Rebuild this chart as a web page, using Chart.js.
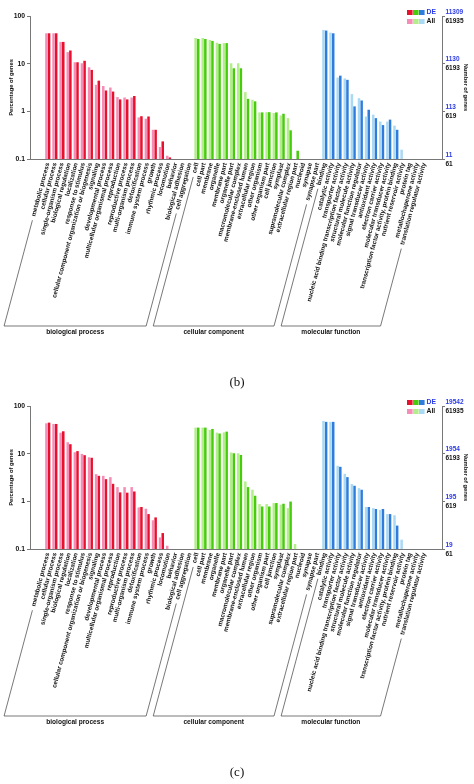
<!DOCTYPE html>
<html>
<head>
<meta charset="utf-8">
<script src="https://cdn.jsdelivr.net/npm/chart.js@4.4.1/dist/chart.umd.min.js"></script>
<style>
  html, body { margin: 0; padding: 0; background: #fff; }
  #wrap { position: relative; width: 474px; height: 784px; }
  canvas { position: absolute; left: 0; }
  .pl { position: absolute; left: 0; width: 474px; text-align: center; font: 13px "Liberation Serif", "DejaVu Serif", serif; color: #111; line-height: 16px; }
</style>
</head>
<body>
<div id="wrap">
  <canvas id="c1" width="474" height="390" style="top:0"></canvas>
  <canvas id="c2" width="474" height="390" style="top:390px"></canvas>
  <div class="pl" style="top:374px">(b)</div>
  <div class="pl" style="top:764px">(c)</div>
</div>
<script>
// ---------- categories ----------
const bpCats = ['metabolic process','cellular process','single-organism process','biological regulation','localization','response to stimulus','cellular component organization or biogenesis','signaling','developmental process','multicellular organismal process','reproduction','reproductive process','multi-organism process','detoxification','immune system process','growth','rhythmic process','locomotion','behavior','biological adhesion','cell aggregation'];
const ccCats = ['cell','cell part','membrane','organelle','membrane part','organelle part','macromolecular complex','membrane-enclosed lumen','extracellular region','other organism','other organism part','cell junction','symplast','supramolecular complex','extracellular region part','nucleoid','synapse','synapse part'];
const mfCats = ['binding','catalytic activity','transporter activity','nucleic acid binding transcription factor activity','structural molecule activity','molecular function regulator','signal transducer activity','antioxidant activity','electron carrier activity','molecular transducer activity','transcription factor activity, protein binding','nutrient reservoir activity','protein tag','metallochaperone activity','translation regulator activity'];
const groupNames = ['biological process','cellular component','molecular function'];

// ---------- panel (b) values: percentage of genes ----------
const bpAllB = [43.4, 43.4, 28.6, 17.5, 10.7, 10.2, 8.4, 3.6, 3.4, 3.16, 1.99, 1.95, 1.95, 0.745, 0.70, 0.41, 0.178, 0.117, null, null, null];
const bpDEB  = [43.4, 43.4, 28.6, 18.9, 10.7, 11.5, 7.4, 4.4, 2.74, 2.6, 1.78, 1.78, 2.1, 0.79, 0.78, 0.41, 0.234, 0.108, null, null, null];
const ccAllB = [34.5, 34.5, 31.5, 27.5, 27, 10.2, 10.2, 2.53, 1.75, 0.95, 0.96, 0.92, 0.82, 0.72, null, null, null, null];
const ccDEB  = [33, 33, 30, 26, 27, 8.0, 8.0, 1.83, 1.62, 0.95, 0.96, 0.95, 0.89, 0.40, 0.149, null, null, null];
const mfAllB = [51, 44.8, 5.1, 4.9, 2.3, 1.89, 0.78, 0.85, 0.61, 0.61, 0.5, 0.157, null, null, null];
const mfDEB  = [49.5, 43.4, 5.6, 4.58, 1.27, 1.69, 1.08, 0.72, 0.515, 0.67, 0.41, null, null, null, null];

// ---------- panel (c) values ----------
const bpAllC = [43.4, 42, 27.6, 17.4, 10.7, 9.9, 8.4, 3.72, 3.43, 3.22, 1.99, 1.99, 1.99, 0.745, 0.70, 0.40, 0.175, 0.117, null, null, null];
const bpDEC  = [44.8, 42, 29.5, 15.8, 11.3, 9.3, 8.2, 3.43, 2.92, 2.33, 1.54, 1.52, 1.61, 0.76, 0.54, 0.46, 0.216, null, null, null, null];
const ccAllC = [35.2, 35.2, 31.5, 27.6, 28, 10.6, 10.2, 2.61, 1.75, 0.875, 0.875, 0.92, 0.85, 0.72, 0.127, null, null, null];
const ccDEC  = [35.2, 35.2, 33, 26.5, 29, 10.2, 9.4, 1.99, 1.31, 0.78, 0.78, 0.92, 0.89, 0.99, null, null, null, null];
const mfAllC = [48.6, 46.5, 5.56, 3.78, 2.3, 1.89, 0.76, 0.72, 0.66, 0.54, 0.51, 0.157, null, null, null];
const mfDEC  = [46.5, 46.5, 5.3, 3.22, 2.12, 1.75, 0.76, 0.69, 0.69, 0.54, 0.31, null, null, null, null];

// ---------- axis ticks ----------
const pctTicks = [0.1, 1, 10, 100];
const allCountLabels = ['61', '619', '6193', '61935'];
const deCountLabelsB = ['11', '113', '1130', '11309'];
const deCountLabelsC = ['19', '195', '1954', '19542'];

// ---------- styling ----------
const allColors = ['#f58db6', '#b4ee8c', '#aad9f3'];
const deColors  = ['#e8112d', '#46cc0c', '#2f7cdc'];
const FONT = '"Liberation Sans", Arial, sans-serif';
const PAD = 2;
const LBL = 6.3;

Chart.defaults.font.family = FONT;
Chart.defaults.color = '#111';

const groups = [bpCats, ccCats, mfCats];
const labels = [].concat(Array(PAD).fill(''), bpCats, ccCats, mfCats, Array(PAD).fill(''));
function padArr(a, b, c) { return [].concat(Array(PAD).fill(null), a, b, c, Array(PAD).fill(null)); }
function colorArr(cols) {
  const out = Array(PAD).fill(cols[0]);
  groups.forEach((g, gi) => g.forEach(() => out.push(cols[gi])));
  for (let i = 0; i < PAD; i++) out.push(cols[2]);
  return out;
}

const deco = {
  id: 'deco',
  afterDraw(chart, args, opts) {
    const ctx = chart.ctx, ca = chart.chartArea, xs = chart.scales.x, ys = chart.scales.y;
    ctx.save();
    // legend
    const lx = ca.right - 35;
    for (let k = 0; k < 3; k++) {
      ctx.fillStyle = deColors[k];
      ctx.fillRect(lx + k * 6, ca.top - 6, 5.6, 5);
      ctx.fillStyle = allColors[k];
      ctx.fillRect(lx + k * 6, ca.top + 3, 5.6, 5);
    }
    ctx.font = 'bold 6.8px ' + FONT;
    ctx.textBaseline = 'middle';
    ctx.textAlign = 'left';
    ctx.fillStyle = '#2b3be6';
    ctx.fillText('DE', lx + 19.5, ca.top - 3.5);
    ctx.fillStyle = '#111';
    ctx.fillText('All', lx + 19.5, ca.top + 5.5);
    // right axis labels
    ctx.font = 'bold 6.5px ' + FONT;
    pctTicks.forEach((v, i) => {
      const py = ys.getPixelForValue(v);
      ctx.fillStyle = '#2b3be6';
      ctx.fillText(opts.deLabels[i], ca.right + 3.5, py - 4);
      ctx.fillStyle = '#111';
      ctx.fillText(allCountLabels[i], ca.right + 3.5, py + 5);
    });
    // group brackets
    const th = xs.labelRotation * Math.PI / 180, c = Math.cos(th), s = Math.sin(th);
    ctx.font = 'bold ' + LBL + 'px ' + FONT;
    const lh = LBL * 1.2;
    const y0 = xs.top + 3 + lh / 2 * c;
    const yb = ca.bottom + 167;
    function foot(idx) {
      const px = xs.getPixelForValue(idx);
      const w = ctx.measureText(labels[idx]).width + 4;
      const sx = px - w * c, sy = y0 + w * s;
      const t = (yb - sy) / s;
      return { sx: sx, sy: sy, bx: sx - t * c };
    }
    ctx.strokeStyle = '#555';
    ctx.lineWidth = 0.8;
    let off = PAD;
    groups.forEach((g, gi) => {
      const a = foot(off), b = foot(off + g.length - 1);
      ctx.beginPath();
      ctx.moveTo(a.sx, a.sy); ctx.lineTo(a.bx, yb); ctx.lineTo(b.bx, yb); ctx.lineTo(b.sx, b.sy);
      ctx.stroke();
      ctx.fillStyle = '#111';
      ctx.font = 'bold 6.6px ' + FONT;
      ctx.textAlign = 'center';
      ctx.fillText(groupNames[gi], (a.bx + b.bx) / 2, yb + 6);
      ctx.font = 'bold ' + LBL + 'px ' + FONT;
      off += g.length;
    });
    ctx.restore();
  }
};

function makeChart(id, all, de, deLabels) {
  const H = 390;
  return new Chart(document.getElementById(id), {
    type: 'bar',
    data: {
      labels: labels,
      datasets: [
        { label: 'All', data: all, backgroundColor: colorArr(allColors), categoryPercentage: 0.74, barPercentage: 0.96, yAxisID: 'y' },
        { label: 'DE', data: de, backgroundColor: colorArr(deColors), categoryPercentage: 0.74, barPercentage: 0.96, yAxisID: 'y' }
      ]
    },
    options: {
      responsive: false,
      animation: false,
      devicePixelRatio: 1,
      layout: { padding: { top: 16, left: 0, right: 0, bottom: 0 } },
      plugins: { legend: { display: false }, tooltip: { enabled: false }, deco: { deLabels: deLabels } },
      scales: {
        x: {
          type: 'category',
          offset: true,
          grid: { display: false, drawTicks: false },
          border: { display: true, color: '#777', width: 1 },
          ticks: { autoSkip: false, minRotation: 75, maxRotation: 75, padding: 3, color: '#111', font: { size: LBL, weight: 'bold' } },
          afterFit: s => { s.height = H - 159; }
        },
        y: {
          type: 'logarithmic', position: 'left', min: 0.1, max: 100,
          afterBuildTicks: s => { s.ticks = pctTicks.map(v => ({ value: v })); },
          ticks: { callback: v => String(v), color: '#111', padding: 2, font: { size: 6.8, weight: 'bold' } },
          grid: { display: true, drawOnChartArea: false, drawTicks: true, tickLength: 3, color: '#777' },
          border: { display: true, color: '#777' },
          title: { display: true, text: 'Percentage of genes', color: '#111', font: { size: 5.8, weight: 'bold' }, padding: { top: 8, bottom: 0 } },
          afterFit: s => { s.width = 30; }
        },
        y2: {
          type: 'logarithmic', position: 'right', min: 0.1, max: 100,
          afterBuildTicks: s => { s.ticks = pctTicks.map(v => ({ value: v })); },
          ticks: { display: false },
          grid: { display: true, drawOnChartArea: false, drawTicks: true, tickLength: 3, color: '#777' },
          border: { display: true, color: '#777' },
          title: { display: true, text: 'Number of genes', color: '#111', font: { size: 5.8, weight: 'bold' }, padding: { top: 5, bottom: 0 } },
          afterFit: s => { s.width = 32; }
        }
      }
    },
    plugins: [deco]
  });
}

makeChart('c1', padArr(bpAllB, ccAllB, mfAllB), padArr(bpDEB, ccDEB, mfDEB), deCountLabelsB);
makeChart('c2', padArr(bpAllC, ccAllC, mfAllC), padArr(bpDEC, ccDEC, mfDEC), deCountLabelsC);
</script>
</body>
</html>
